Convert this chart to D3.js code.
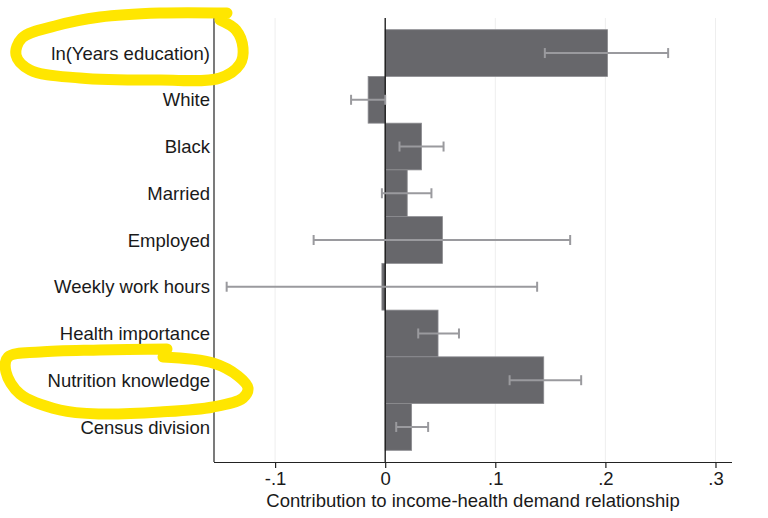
<!DOCTYPE html>
<html>
<head>
<meta charset="utf-8">
<script src="https://cdn.jsdelivr.net/npm/d3@7"></script>
<style>
  body { margin: 0; background: #fff; }
  svg { display: block; font-family: "Liberation Sans", Arial, Helvetica, sans-serif; }
</style>
</head>
<body>
<div id="chart"></div>
<script>
// Data
const categories = ["ln(Years education)", "White", "Black", "Married", "Employed",
  "Weekly work hours", "Health importance", "Nutrition knowledge", "Census division"];
const values = [0.202, -0.0155, 0.033, 0.020, 0.052, -0.003, 0.048, 0.144, 0.024];
const ciLow  = [0.145, -0.031, 0.013, -0.003, -0.065, -0.144, 0.030, 0.113, 0.010];
const ciHigh = [0.257, 0.000, 0.053, 0.042, 0.168, 0.138, 0.067, 0.178, 0.039];
const xTicks = [-0.1, 0, 0.1, 0.2, 0.3];
const xTickLabels = ["-.1", "0", ".1", ".2", ".3"];
const xTitle = "Contribution to income-health demand relationship";
const circled = ["ln(Years education)", "Nutrition knowledge"];

const width = 768, height = 518;
const margin = { top: 18, right: 36, bottom: 56, left: 214 };
const fontSize = "18.5px";

const svg = d3.select("#chart").append("svg")
  .attr("width", width).attr("height", height);

const x = d3.scaleLinear()
  .domain([-0.1555, 0.315])
  .range([margin.left, width - margin.right]);

const y = d3.scaleBand()
  .domain(categories)
  .range([margin.top, height - margin.bottom])
  .paddingInner(0)
  .paddingOuter(0.25);

const plotBottom = height - margin.bottom;

// Light gridlines
svg.append("g").selectAll("line")
  .data(xTicks.filter(d => d !== 0)).enter().append("line")
  .attr("x1", d => x(d)).attr("x2", d => x(d))
  .attr("y1", margin.top).attr("y2", plotBottom)
  .attr("stroke", "#eeeeee").attr("stroke-width", 1);

// Bars
svg.append("g").selectAll("rect")
  .data(categories).enter().append("rect")
  .attr("x", (d, i) => Math.min(x(0), x(values[i])))
  .attr("width", (d, i) => Math.abs(x(values[i]) - x(0)))
  .attr("y", d => y(d))
  .attr("height", y.bandwidth())
  .attr("fill", "#67676b")
  .attr("stroke", "#8c8c90")
  .attr("stroke-width", 0.8);

// Zero line
svg.append("line")
  .attr("x1", x(0)).attr("x2", x(0))
  .attr("y1", margin.top).attr("y2", plotBottom)
  .attr("stroke", "#111").attr("stroke-width", 1.3);

// Error bars
const err = svg.append("g").attr("stroke", "#9a9a9e").attr("stroke-width", 2);
categories.forEach((c, i) => {
  const cy = y(c) + y.bandwidth() / 2;
  err.append("line").attr("x1", x(ciLow[i])).attr("x2", x(ciHigh[i])).attr("y1", cy).attr("y2", cy);
  [ciLow[i], ciHigh[i]].forEach(v => {
    err.append("line").attr("x1", x(v)).attr("x2", x(v)).attr("y1", cy - 5).attr("y2", cy + 5);
  });
});

// Left axis line
svg.append("line")
  .attr("x1", margin.left).attr("x2", margin.left)
  .attr("y1", margin.top).attr("y2", plotBottom)
  .attr("stroke", "#222").attr("stroke-width", 1.2);

// Category labels
svg.append("g").selectAll("text")
  .data(categories).enter().append("text")
  .attr("x", margin.left - 4)
  .attr("y", d => y(d) + y.bandwidth() / 2)
  .attr("dy", "0.36em")
  .attr("text-anchor", "end")
  .attr("font-size", fontSize)
  .attr("fill", "#1a1a1a")
  .text(d => d);

// Bottom axis
const xAxis = d3.axisBottom(x)
  .tickValues(xTicks)
  .tickFormat((d, i) => xTickLabels[i])
  .tickSize(6)
  .tickSizeOuter(0)
  .tickPadding(4);

const gx = svg.append("g")
  .attr("transform", `translate(0,${plotBottom})`)
  .call(xAxis);
gx.select(".domain").attr("stroke", "#222").attr("stroke-width", 1.2)
  .attr("d", `M${margin.left},0.5H${width - margin.right}`);
gx.selectAll(".tick line").attr("stroke", "#222").attr("stroke-width", 1.2);
gx.selectAll(".tick text")
  .attr("font-size", fontSize)
  .attr("font-family", "'Liberation Sans', Arial, sans-serif")
  .attr("fill", "#1a1a1a");

svg.append("text")
  .attr("x", (margin.left + width - margin.right) / 2)
  .attr("y", 507)
  .attr("text-anchor", "middle")
  .attr("font-size", fontSize)
  .attr("fill", "#1a1a1a")
  .text(xTitle);

// Hand-drawn highlight loops round the circled labels
const loops = [
  [[227, 13], [160, 13], [100, 17], [55, 26], [22, 38], [16, 55], [30, 70], [80, 78],
   [160, 80], [220, 78], [240, 64], [243, 48], [236, 30], [220, 20]],
  [[167, 349], [100, 350], [40, 352], [8, 357], [6, 372], [20, 394], [60, 410], [100, 414],
   [160, 412], [213, 407], [243, 398], [248, 388], [238, 376], [213, 363], [163, 357]]
];
const line = d3.line().curve(d3.curveCatmullRom.alpha(0.5));
svg.append("g").selectAll("path")
  .data(loops).enter().append("path")
  .attr("d", d => line(d))
  .attr("fill", "none")
  .attr("stroke", "#ffe600")
  .attr("stroke-width", 11)
  .attr("stroke-linecap", "round")
  .attr("stroke-linejoin", "round")
  .attr("data-labels", (d, i) => circled[i]);
</script>
</body>
</html>
